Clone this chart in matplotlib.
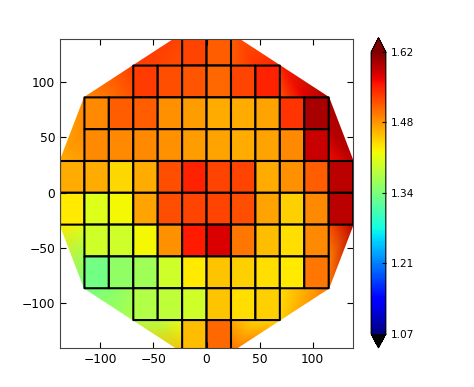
import numpy as np
import matplotlib
matplotlib.use('Agg')
import matplotlib.pyplot as plt
import matplotlib.tri as mtri
import warnings

warnings.filterwarnings('ignore')

nan = np.nan
# die values, top row first (12 columns of 23 wide, 10 rows of 28.75 high)
row0 = [nan, nan, nan, nan, nan, 1.53, 1.515, nan, nan, nan, nan, nan]
row1 = [nan, nan, nan, 1.535, 1.525, 1.52, 1.51, 1.53, 1.55, nan, nan, nan]
row2 = [nan, 1.49, 1.515, 1.515, 1.485, 1.48, 1.47, 1.47, 1.475, 1.54, 1.60, nan]
row3 = [nan, 1.49, 1.49, 1.49, 1.485, 1.48, 1.475, 1.47, 1.475, 1.49, 1.585, nan]
row4 = [1.47, 1.47, 1.445, 1.47, 1.525, 1.55, 1.53, 1.53, 1.47, 1.485, 1.515, 1.59]
row5 = [1.435, 1.41, 1.425, 1.475, 1.525, 1.53, 1.53, 1.525, 1.475, 1.45, 1.49, 1.59]
row6 = [nan, 1.40, 1.40, 1.425, 1.485, 1.555, 1.575, 1.50, 1.46, 1.44, 1.49, nan]
row7 = [nan, 1.34, 1.36, 1.37, 1.40, 1.435, 1.455, 1.45, 1.44, 1.435, 1.50, nan]
row8 = [nan, nan, nan, 1.38, 1.39, 1.40, 1.455, 1.44, 1.45, nan, nan, nan]
row9 = [nan, nan, nan, nan, nan, 1.46, 1.51, nan, nan, nan, nan, nan]

cbar_labels = ['1.07', '1.21', '1.34', '1.48', '1.62']

die_w = 23.0
die_h = 28.75
vmin, vmax = 1.07, 1.62

vals = np.array([row0, row1, row2, row3, row4, row5, row6, row7, row8, row9])
nrow, ncol = vals.shape
x_edges = -ncol / 2 * die_w + die_w * np.arange(ncol + 1)
y_edges = nrow / 2 * die_h - die_h * np.arange(nrow + 1)

# corner values = mean of the dies touching each corner (for the background fill)
pad = np.full((nrow + 2, ncol + 2), nan)
pad[1:-1, 1:-1] = vals
stack = np.stack([pad[:-1, :-1], pad[:-1, 1:], pad[1:, :-1], pad[1:, 1:]])
corner = np.nanmean(stack, axis=0)
XX, YY = np.meshgrid(x_edges, y_edges)
ok = ~np.isnan(corner)
tri = mtri.Triangulation(XX[ok], YY[ok])

cmap = plt.get_cmap('jet').copy()
cmap.set_under('black')

fig = plt.figure(figsize=(4.74, 3.87), dpi=100)
ax = fig.add_axes([0.1266, 0.1015, 0.6184, 0.7977])
ax.tripcolor(tri, corner[ok], shading='gouraud', cmap=cmap, vmin=vmin, vmax=vmax)
mesh = ax.pcolor(x_edges, y_edges, np.ma.masked_invalid(vals), cmap=cmap,
                 vmin=vmin, vmax=vmax, edgecolors='k', linewidth=1.5)

ax.set_xlim(-138, 138)
ax.set_ylim(-140, 139)
ax.set_xticks([-100, -50, 0, 50, 100])
ax.set_yticks([-100, -50, 0, 50, 100])
ax.tick_params(direction='in', top=True, right=True, labelsize=8.8, length=4)
for s in ax.spines.values():
    s.set_color('#444444')

cax = fig.add_axes([0.783, 0.101, 0.031, 0.801])
cb = fig.colorbar(mesh, cax=cax, extend='both', ticks=np.linspace(vmin, vmax, 5))
cb.set_ticklabels(cbar_labels)
cb.ax.tick_params(direction='in', labelsize=7.6, length=3)

fig.savefig('out.png', dpi=100)
